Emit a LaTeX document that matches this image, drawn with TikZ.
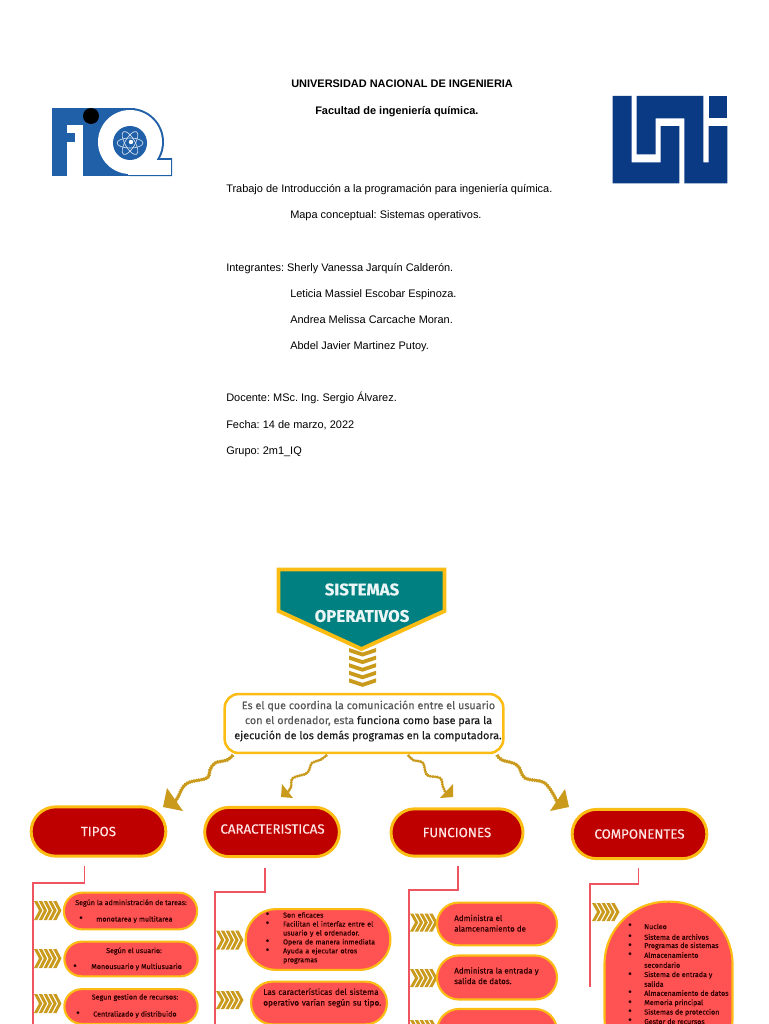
\documentclass[tikz,border=0pt]{standalone}
\usepackage{fontspec}
\setmainfont{Liberation Sans}
\newfontfamily\din[FakeBold=0.25]{Fira Sans}
\usetikzlibrary{shapes.misc,calc}
\definecolor{borderY}{HTML}{FBBC14}
\definecolor{tealC}{HTML}{008080}
\definecolor{darkR}{HTML}{BF0000}
\definecolor{lightR}{HTML}{FF5252}
\definecolor{lineR}{HTML}{EE5560}
\definecolor{goldC}{HTML}{C99A1C}
\definecolor{fiqB}{HTML}{2060A8}
\definecolor{uniB}{HTML}{0B3A85}
\colorlet{inkR}{black!82!red}
\newcommand{\bl}{{\normalfont\fontsize{7.5pt}{6pt}\selectfont\textbullet}}
\newcommand{\bul}[1]{\makebox[13pt][l]{\bl}#1}
\newcommand{\chevs}[3]{% x left, y centre, height
  \foreach \k in {0,1,2,3,4}{
    \fill[goldC,shift={(#1+\k*4.8,#2)}] (0,-#3/2) -- (3.3,-#3/2) -- (8.3,0) -- (3.3,#3/2) -- (0,#3/2) -- (5,0) -- cycle;
  }}
\newcommand{\vchevs}[3]{% x centre, y top, half-width
  \foreach \k in {0,1,2,3,4}{
    \fill[goldC,shift={(#1,#2+\k*7.6)}] (-#3,0) -- (0,4.5) -- (#3,0) -- (#3,4) -- (0,8.5) -- (-#3,4) -- cycle;
  }}
\tikzset{
  x=0.75pt,y=-0.75pt,
  doc/.style={anchor=base west,inner sep=0pt,font=\frenchspacing\fontsize{8.22pt}{10pt}\selectfont},
  docb/.style={doc,font=\frenchspacing\fontsize{8.22pt}{10pt}\selectfont\bfseries},
  big/.style={rounded rectangle,draw=borderY,line width=2.2pt,fill=darkR,inner sep=0pt,text=white!90!red,font=\din\fontsize{10pt}{10pt}\selectfont},
  small/.style={rounded rectangle,draw=borderY,line width=1.6pt,fill=lightR,inner sep=0pt},
  ink/.style={inner sep=0pt,text=inkR,font=\din\fontsize{5.35pt}{6pt}\selectfont},
  redline/.style={draw=lineR,line width=1.35pt},
  wave/.style={draw=goldC,line width=1.9pt,postaction={draw=goldC,line width=2.7pt,dash pattern=on .7pt off 1.1pt}},
  wavethin/.style={draw=goldC,line width=1.4pt,postaction={draw=goldC,line width=2.1pt,dash pattern=on .7pt off 1.1pt}},
  tipfill/.style={fill=goldC},
}
\begin{document}
\begin{tikzpicture}
\useasboundingbox (0,0) rectangle (768,1024);
\clip (0,0) rectangle (768,1024);
\fill[white] (0,0) rectangle (768,1024);

% FIQ logo
\fill[fiqB] (51.5,108) rectangle (135,176);
\fill[white] (67,125) rectangle (83,176);
\fill[fiqB] (67,133) rectangle (75,142);
\fill[fiqB] (157,158) -- (172,158) -- (172,176) -- (130,176) -- (130,158) -- cycle;
\fill[fiqB] (130,142) circle (34);
\fill[white] (130,142) circle (32);
\fill[white] (128,160) rectangle (170.5,174.7);
\fill[fiqB] (130,143) circle (17);
\begin{scope}[draw=white!80!fiqB,line width=.5pt]
  \draw (130,143) ellipse (13 and 5);
  \draw[rotate around={60:(130,143)}] (130,143) ellipse (13 and 5);
  \draw[rotate around={-60:(130,143)}] (130,143) ellipse (13 and 5);
\end{scope}
\fill[white] (131,142) circle (2.2);
\fill[black] (91,116) circle (8);

% UNI logo
\fill[uniB] (612.7,96) -- (631.7,96) -- (631.7,162.3) -- (660.7,162.3) -- (660.7,126) -- (679.3,126) -- (679.3,183.3) -- (612.7,183.3) -- cycle;
\fill[uniB] (636.7,96) -- (703.3,96) -- (703.3,162.3) -- (708.7,162.3) -- (708.7,126) -- (727.3,126) -- (727.3,183.3) -- (684.3,183.3) -- (684.3,118.3) -- (655.7,118.3) -- (655.7,154.3) -- (636.7,154.3) -- cycle;
\fill[uniB] (708.7,96) rectangle (727.3,118.3);

% Cover text
\node[docb] (t1) at (291,88) {UNIVERSIDAD NACIONAL DE INGENIERIA};
\node[docb] (t2) at (315,114) {Facultad de ingeniería química.};
\node[doc] (t3) at (226,192) {Trabajo de Introducción a la programación para ingeniería química.};
\node[doc] (t4) at (290,218) {Mapa conceptual: Sistemas operativos.};
\node[doc] (t5) at (226,271) {Integrantes: Sherly Vanessa Jarquín Calderón.};
\node[doc] (t6) at (290,297) {Leticia Massiel Escobar Espinoza.};
\node[doc] (t7) at (290,323) {Andrea Melissa Carcache Moran.};
\node[doc] (t8) at (290,349) {Abdel Javier Martinez Putoy.};
\node[doc] (t9) at (226,401) {Docente: MSc. Ing. Sergio Álvarez.};
\node[doc] (t10) at (226,428) {Fecha: 14 de marzo, 2022};
\node[doc] (t11) at (226,454) {Grupo: 2m1\_IQ};

% Title banner
\vchevs{362.5}{648}{13.5}
\draw[draw=borderY,line width=2.9pt,fill=tealC] (278.5,569.5) -- (444.5,569.5) -- (444.5,611) -- (361.5,649) -- (278.5,611) -- cycle;
\node[inner sep=0pt,text=white!92!teal,font=\din\bfseries\fontsize{12.6pt}{14pt}\selectfont] (s1) at (362,589.5) {SISTEMAS};
\node[inner sep=0pt,text=white!92!teal,font=\din\bfseries\fontsize{12.6pt}{14pt}\selectfont] (s2) at (362,616) {OPERATIVOS};

% Main box
\node[draw=borderY,line width=1.9pt,fill=white,rounded corners=10.5pt,minimum width=209pt,minimum height=44.2pt,inner sep=0pt] (mainbox) at (364,723.5) {};
\node[inner sep=0pt,font=\din\fontsize{8.1pt}{8pt}\selectfont,text=black!65] (m1) at (368.5,706) {Es el que coordina la comunicación entre el usuario};
\node[inner sep=0pt,font=\din\fontsize{8.1pt}{8pt}\selectfont,text=black!65] (m2) at (368.5,721) {con el ordenador, esta \textcolor{black!90}{funciona como base para la}};
\node[inner sep=0pt,font=\din\fontsize{8.1pt}{8pt}\selectfont,text=black!88] (m3) at (368,736) {ejecución de los demás programas en la computadora.};

% Main category nodes
\node[big,minimum width=101pt,minimum height=37pt] (tipos) at (98.5,831.5) {TIPOS};
\node[big,minimum width=101pt,minimum height=37pt] (carac) at (272,832) {};
\node[inner sep=0pt,text=white!90!red,font=\din\fontsize{10pt}{10pt}\selectfont] (caract) at (272.5,829) {CARACTERISTICAS};
\node[big,minimum width=99pt,minimum height=35.5pt] (func) at (457,832.5) {FUNCIONES};
\node[big,minimum width=101pt,minimum height=37pt] (comp) at (639.5,834) {COMPONENTES};

% Wavy connectors
\coordinate (w1a) at (233,755);
\coordinate (w2a) at (327,755);
\coordinate (w3a) at (408,755);
\coordinate (w4a) at (497,755);
\coordinate (w1z) at (175,802);
\coordinate (w2z) at (288,792);
\coordinate (w3z) at (446,793);
\coordinate (w4z) at (557,802);
\coordinate (a1) at (167,788); \coordinate (a2) at (163,807); \coordinate (a3) at (183,811);
\coordinate (b1) at (282,784); \coordinate (b2) at (281,797); \coordinate (b3) at (293,798);
\coordinate (c1) at (453,784); \coordinate (c2) at (453,797); \coordinate (c3) at (440,798);
\coordinate (d1) at (565,789); \coordinate (d2) at (569,807); \coordinate (d3) at (550,811);
\draw[wave] plot[smooth,tension=.6] coordinates {(w1a) (227,760) (215,763) (210,770) (207,778) (190,782) (183,787) (179,795) (w1z)};
\fill[tipfill] (a1) -- (a2) -- (a3) -- cycle;
\draw[wavethin] plot[smooth,tension=.6] coordinates {(w2a) (320,760) (312,763) (307,773) (293,778) (291,787) (w2z)};
\fill[tipfill] (b1) -- (b2) -- (b3) -- cycle;
\draw[wavethin] plot[smooth,tension=.6] coordinates {(w3a) (413,760) (423,763) (427,775) (440,778) (443,787) (w3z)};
\fill[tipfill] (c1) -- (c2) -- (c3) -- cycle;
\draw[wave] plot[smooth,tension=.6] coordinates {(w4a) (502,760) (517,765) (525,778) (543,782) (552,792) (w4z)};
\fill[tipfill] (d1) -- (d2) -- (d3) -- cycle;

% Column 1
\coordinate (l1a) at (84.5,866); \coordinate (l1b) at (84.5,883); \coordinate (l1c) at (33,883); \coordinate (l1d) at (33,1024);
\draw[redline] (l1a) -- (l1b) -- (l1c) -- (l1d);
\chevs{34}{910.5}{19}
\chevs{34}{958.5}{19}
\chevs{34}{1003.5}{19}
\node[small,minimum width=100pt,minimum height=27.5pt] (o11) at (130.5,911) {};
\node[ink] (o11t) at (131,903) {Según la administración de tareas:};
\node[ink] (o11b) at (81,919.5) {\bl};
\node[ink,anchor=west] (o11u) at (96,919.5) {monotarea y multitarea};
\node[small,minimum width=100pt,minimum height=26pt] (o12) at (131,959) {};
\node[ink] (o12t) at (134,951) {Según el usuario:};
\node[ink] (o12b) at (75,967) {\bl};
\node[ink,anchor=west] (o12u) at (91,967) {Monousuario y Multiusuario};
\node[small,minimum width=100pt,minimum height=26pt] (o13) at (131,1006.5) {};
\node[ink] (o13t) at (135,997.5) {Segun gestion de recursos:};
\node[ink] (o13b) at (78,1014.5) {\bl};
\node[ink,anchor=west] (o13u) at (93,1014.5) {Centralizado y distribuido};

% Column 2
\coordinate (l2a) at (265,868); \coordinate (l2b) at (265,892); \coordinate (l2c) at (215,892); \coordinate (l2d) at (215,1024);
\draw[redline] (l2a) -- (l2b) -- (l2c) -- (l2d);
\chevs{216}{940}{19}
\chevs{216}{1000}{18}
\node[small,minimum width=108.5pt,minimum height=45.5pt] (o21) at (318,939.5) {};
\node[ink,text width=95pt,anchor=north west,align=left,font=\din\fontsize{5.35pt}{6.7pt}\selectfont] (o21t) at (265.5,912) {\bul{Son eficaces}\\\bul{Facilitan el interfaz entre el}\\\hspace*{13pt}usuario y el ordenador.\\\bul{Opera de manera inmediata}\\\bul{Ayuda a ejecutar otros}\\\hspace*{13pt}programas};
\node[small,minimum width=102pt,minimum height=32pt] (o22) at (319,1003) {};
\node[ink,text width=105pt,anchor=north west,align=left,font=\din\fontsize{6.2pt}{8pt}\selectfont] (o22t) at (263,988) {Las características del sistema\\operativo varían según su tipo.};

% Column 3
\coordinate (l3a) at (458,866); \coordinate (l3b) at (458,890); \coordinate (l3c) at (409,890); \coordinate (l3d) at (409,1024);
\draw[redline] (l3a) -- (l3b) -- (l3c) -- (l3d);
\chevs{410}{922.5}{18}
\chevs{410}{978}{18}
\chevs{410}{1029}{18}
\node[small,minimum width=90pt,minimum height=32pt] (o31) at (497,924) {};
\node[ink,anchor=north west,align=left,font=\din\fontsize{6pt}{7.9pt}\selectfont] (o31t) at (454,914.5) {Administra el\\alamcenamiento de};
\node[small,minimum width=90pt,minimum height=33pt] (o32) at (497,977.5) {};
\node[ink,anchor=north west,align=left,font=\din\fontsize{6pt}{7.9pt}\selectfont] (o32t) at (454,967) {Administra la entrada y\\salida de datos.};
\node[small,minimum width=90pt,minimum height=33pt] (o33) at (497,1031) {};

% Column 4
\coordinate (l4a) at (638.5,868); \coordinate (l4b) at (638.5,884); \coordinate (l4c) at (590,884); \coordinate (l4d) at (590,987);
\draw[redline] (l4a) -- (l4b) -- (l4c) -- (l4d);
\node[draw=borderY,line width=1.6pt,fill=lightR,inner sep=0pt,minimum width=96pt,minimum height=134pt,rounded corners=47pt] (o41) at (668.5,991) {};
\chevs{592}{912}{18}
\foreach \nm/\yy/\tx in {
  a/926.5/Nucleo,
  b/937/Sistema de archivos,
  c/946/Programas de sistemas,
  d/955/Almacenamiento,
  f/975/Sistema de entrada y,
  h/993/Almacenamiento de datos,
  i/1003/Memoria principal,
  j/1012.5/Sistemas de proteccion,
  k/1021.5/Gestor de recursos}{
  \node[ink] (b\nm) at (630,\yy) {\bl};
  \node[ink,anchor=west] (c\nm) at (644,\yy) {\tx};
}
\node[ink,anchor=west] (ce) at (644,965) {secondario};
\node[ink,anchor=west] (cg) at (644,984) {salida};
\end{tikzpicture}
\end{document}
